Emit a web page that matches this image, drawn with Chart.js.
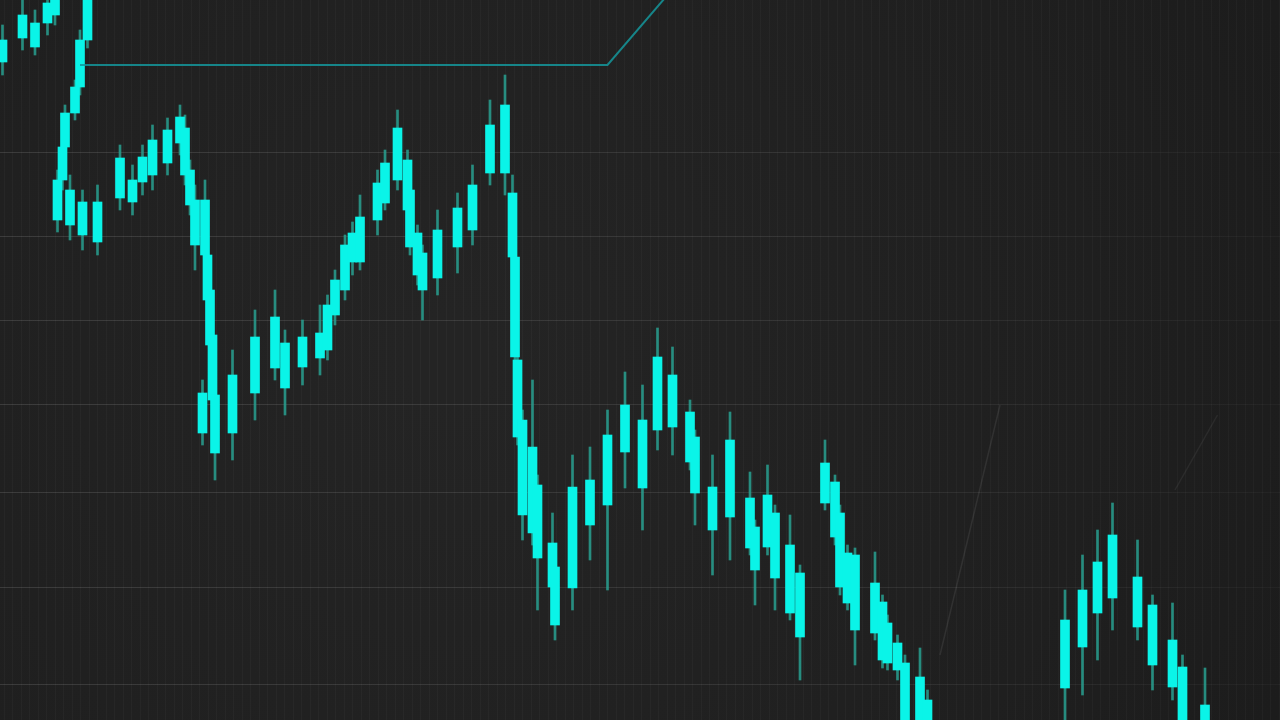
<!DOCTYPE html>
<html>
<head>
<meta charset="utf-8">
<script src="https://cdn.jsdelivr.net/npm/chart.js@4.4.1/dist/chart.umd.min.js"></script>
<style>
  html, body { margin: 0; padding: 0; background: #1e1e1e; overflow: hidden; }
  #wrap { width: 1280px; height: 720px; }
</style>
</head>
<body>
<div id="wrap"><canvas id="c" width="1280" height="720"></canvas></div>
<script>
// Session index of each candle (time axis)
const sessions = [1, 9, 14, 19, 22, 23, 25, 26, 28, 30, 32, 33, 35, 39, 48, 53, 57, 61, 67, 72, 74, 76, 78, 81, 82, 83, 84, 85, 86,
  93, 102, 110, 114, 121, 128, 131, 134, 138, 141, 144, 151, 154, 159, 163, 164, 167, 169, 175, 183, 189, 196, 202,
  205, 206, 207, 209, 213, 215, 221, 222, 229, 236, 243, 250, 257, 263, 269, 276, 278, 285, 292, 300, 302, 307, 310,
  316, 320, 330, 334, 336, 339, 342, 350, 353, 355, 359, 362, 368, 371, 426, 433, 439, 445, 455, 461, 469, 473, 482];
const openP = [65.8, 68.2, 69.7, 69.7, 70.5, 54.0, 57.3, 60.7, 53.0, 63.3, 68.0, 51.8, 72.0, 51.8, 52.2, 54.0, 53.8, 54.5, 55.7, 57.7, 59.2, 55.0, 52.0, 32.7, 52.0, 46.5, 43.0, 38.5, 32.5,
  28.7, 32.7, 35.2, 37.7, 35.3, 38.7, 37.0, 40.5, 43.0, 45.8, 45.8, 50.0, 51.7, 54.0, 56.0, 53.0, 48.7, 46.7, 44.2, 47.3, 49.0, 54.7, 54.7,
  52.7, 46.3, 36.0, 30.0, 27.3, 23.5, 17.7, 15.3, 13.2, 19.5, 21.5, 26.8, 30.0, 29.0, 34.5, 30.8, 28.3, 23.3, 20.3, 22.2, 19.3, 17.3, 20.7,
  17.5, 14.7, 25.7, 23.8, 20.7, 16.7, 16.5, 13.7, 11.8, 9.7, 7.7, 5.7, 4.3, 2.0, 3.2, 7.3, 10.7, 12.2, 14.3, 11.5, 8.0, 5.3, 1.5];
const closeP = [68.0, 70.5, 67.3, 71.7, 72.5, 50.0, 54.0, 57.3, 49.5, 60.7, 63.3, 48.5, 68.0, 47.8, 56.2, 51.8, 56.3, 58.0, 59.0, 60.3, 54.5, 51.5, 47.5, 28.7, 46.5, 42.0, 37.5, 32.0, 26.7,
  34.5, 38.3, 40.3, 33.2, 38.3, 36.2, 41.5, 44.0, 47.5, 48.7, 50.3, 53.7, 55.7, 59.2, 51.0, 47.3, 44.5, 43.0, 49.0, 51.2, 53.5, 59.5, 61.5,
  46.3, 36.3, 28.3, 20.5, 18.7, 16.2, 13.3, 9.5, 23.3, 24.0, 28.5, 31.5, 23.2, 36.3, 29.3, 25.8, 22.7, 19.0, 28.0, 17.2, 15.0, 22.5, 14.2,
  10.7, 8.3, 21.7, 18.3, 13.3, 11.7, 9.0, 8.7, 6.0, 5.7, 5.0, -1.0, -1.0, -2.0, 10.0, 13.0, 15.8, 18.5, 9.3, 5.5, 3.3, -0.5, -2.0];
const highP = [69.5, 72.0, 71.0, 73.5, 73.5, 55.0, 58.0, 61.5, 54.5, 64.0, 69.0, 53.0, 73.0, 53.5, 57.5, 55.5, 57.5, 59.5, 60.2, 61.5, 60.5, 56.0, 53.5, 34.0, 54.0, 47.2, 44.0, 39.5, 33.5,
  37.0, 41.0, 43.0, 39.0, 40.0, 41.5, 42.5, 45.0, 48.5, 49.8, 52.5, 55.0, 57.0, 61.0, 57.0, 54.0, 49.5, 47.5, 51.0, 52.7, 55.5, 62.0, 64.5,
  54.5, 47.0, 39.0, 31.0, 34.0, 24.5, 20.7, 16.5, 26.5, 27.3, 31.0, 34.8, 33.5, 39.2, 37.3, 32.0, 29.0, 26.5, 30.8, 24.8, 20.0, 25.5, 21.5,
  20.5, 15.5, 28.0, 24.5, 21.5, 17.5, 17.2, 16.8, 12.5, 10.5, 8.5, 6.5, 7.2, 3.0, 13.0, 16.5, 19.0, 21.7, 18.0, 12.5, 11.7, 6.5, 5.2];
const lowP = [64.5, 67.0, 66.5, 68.5, 69.5, 48.8, 53.0, 56.5, 48.0, 60.0, 62.5, 47.0, 67.2, 46.5, 51.0, 50.5, 52.5, 53.0, 54.5, 56.5, 53.5, 50.5, 45.0, 27.5, 45.8, 41.0, 36.5, 31.0, 24.0,
  26.0, 30.0, 34.0, 30.5, 33.5, 34.5, 36.0, 39.5, 42.0, 44.5, 45.0, 48.5, 51.0, 53.0, 50.0, 46.5, 43.5, 40.0, 42.5, 44.7, 47.5, 53.5, 52.5,
  45.5, 35.5, 27.5, 18.0, 17.5, 11.0, 12.0, 8.0, 11.0, 16.0, 13.0, 23.2, 19.0, 27.0, 26.5, 25.0, 19.5, 14.5, 16.0, 16.5, 11.5, 16.5, 11.0,
  10.0, 4.0, 21.0, 17.5, 12.5, 11.0, 5.5, 8.0, 5.2, 5.0, 4.0, -2.0, -2.0, -3.0, 0.0, 2.5, 6.0, 9.0, 8.0, 3.0, 2.0, -1.5, -2.5];

// Support / resistance line (teal) and faint trend lines
const levelSessions = [32, 243, 267];
const levelValues = [65.5, 65.5, 72.5];
const trendA_Sessions = [400, 376];
const trendA_Values = [31.5, 6.5];
const trendB_Sessions = [487, 470];
const trendB_Values = [30.5, 23.0];

// Price grid levels
const priceGrid = [56.8, 48.4, 40.0, 31.6, 22.8, 13.3, 3.6];

const bgPlugin = {
  id: 'bg',
  beforeDraw(chart) {
    const ctx = chart.ctx;
    const w = chart.width, h = chart.height;
    const g = ctx.createRadialGradient(w * 0.35, h * 0.5, 40, w * 0.4, h * 0.5, w * 0.85);
    g.addColorStop(0, '#242424');
    g.addColorStop(0.55, '#1f1f1f');
    g.addColorStop(1, '#191919');
    ctx.save();
    ctx.fillStyle = g;
    ctx.fillRect(0, 0, w, h);
    ctx.restore();
  }
};

let hGrad = null;
function gridColor(c) {
  const chart = c.chart;
  if (!hGrad) {
    hGrad = chart.ctx.createLinearGradient(0, 0, chart.width, 0);
    hGrad.addColorStop(0, 'rgba(255,255,255,0.12)');
    hGrad.addColorStop(0.6, 'rgba(255,255,255,0.09)');
    hGrad.addColorStop(1, 'rgba(255,255,255,0.03)');
  }
  return hGrad;
}

const wickData = sessions.map((s, i) => ({ x: s, y: [lowP[i], highP[i]] }));
const bodyData = sessions.map((s, i) => ({ x: s, y: [openP[i], closeP[i]] }));
const toPts = (xs, ys) => xs.map((x, i) => ({ x, y: ys[i] }));

const xGrid = [];
for (let v = 0; v <= 512; v += 3.4) xGrid.push(v);

new Chart(document.getElementById('c'), {
  type: 'bar',
  data: {
    datasets: [
      {
        type: 'line', data: toPts(levelSessions, levelValues),
        borderColor: 'rgba(20,150,155,0.85)', borderWidth: 2, pointRadius: 0, tension: 0, order: 0
      },
      {
        type: 'line', data: toPts(trendA_Sessions, trendA_Values),
        borderColor: 'rgba(255,255,255,0.08)', borderWidth: 1.5, pointRadius: 0, order: 5
      },
      {
        type: 'line', data: toPts(trendB_Sessions, trendB_Values),
        borderColor: 'rgba(255,255,255,0.06)', borderWidth: 1.5, pointRadius: 0, order: 5
      },
      {
        data: wickData, barThickness: 2, grouped: false,
        backgroundColor: 'rgba(40,160,145,0.85)', borderWidth: 0, order: 3
      },
      {
        data: bodyData, barThickness: 9, grouped: false,
        backgroundColor: 'rgb(10,244,232)', borderWidth: 0, borderSkipped: false, order: 1
      }
    ]
  },
  options: {
    responsive: false,
    animation: false,
    devicePixelRatio: 1,
    layout: { padding: 0 },
    plugins: { legend: { display: false }, tooltip: { enabled: false } },
    scales: {
      x: {
        type: 'linear', min: 0, max: 512, offset: false,
        border: { display: false },
        ticks: { display: false },
        grid: { drawTicks: false, tickLength: 0, color: 'rgba(255,255,255,0.028)', lineWidth: 1 },
        afterBuildTicks: (s) => { s.ticks = xGrid.map(v => ({ value: v })); }
      },
      y: {
        min: 0, max: 72,
        border: { display: false },
        ticks: { display: false },
        grid: { drawTicks: false, tickLength: 0, color: gridColor, lineWidth: 1 },
        afterBuildTicks: (s) => { s.ticks = priceGrid.map(v => ({ value: v })); }
      }
    }
  },
  plugins: [bgPlugin]
});
</script>
</body>
</html>
